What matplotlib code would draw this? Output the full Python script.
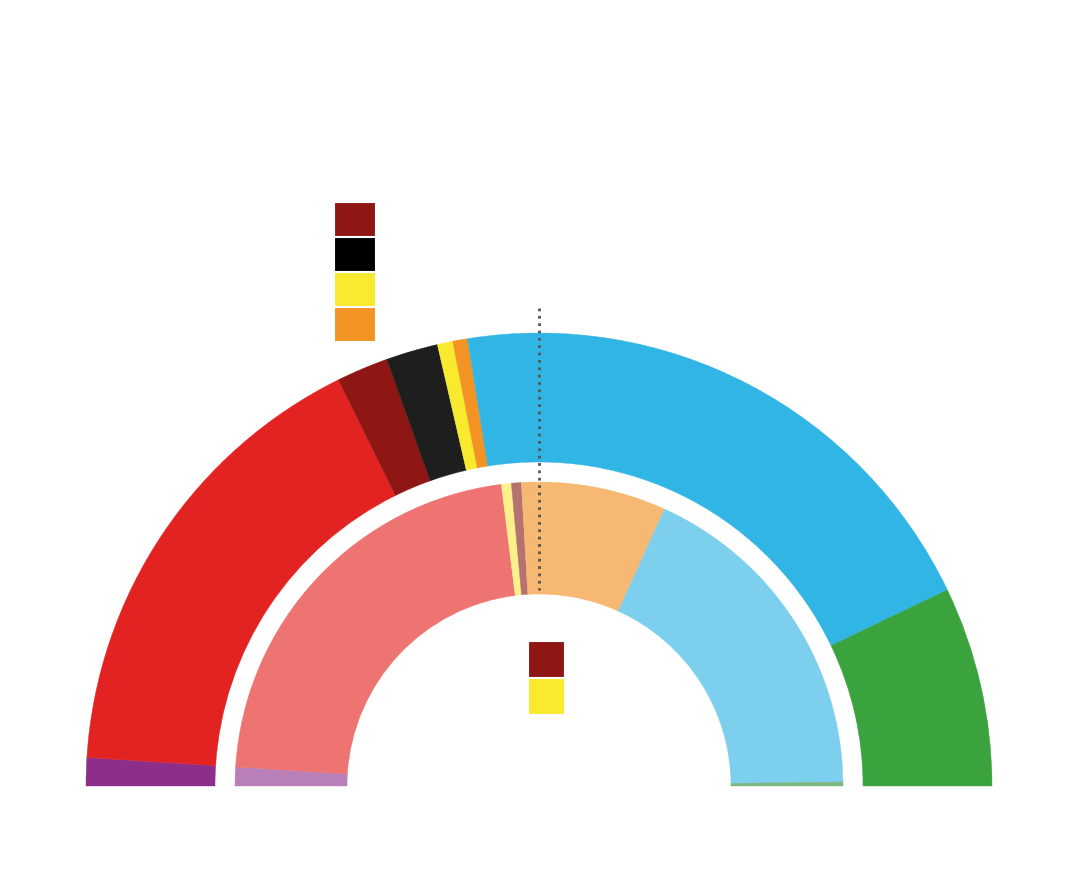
import matplotlib.pyplot as plt
from matplotlib.patches import Wedge, Rectangle

# Shares (percent of the half circle), listed from left to right
outer_shares = [2.0, 33.4, 3.7, 3.7, 1.1, 1.05, 40.8, 14.25]
outer_colors = ['#8C2E8A', '#E32322', '#8E1714', '#1E1E1E', '#F9E92F', '#F39323', '#30B5E5', '#3AA33D']

inner_shares = [2.0, 44.05, 1.05, 1.05, 15.4, 36.03, 0.42]
inner_colors = ['#B97FB8', '#EE7471', '#FBF08A', '#B5726E', '#F6B872', '#7DCFEE', '#7CB77E']

legend_top = ['#8E1714', '#000000', '#F9E92F', '#F39323']
legend_bottom = ['#8E1714', '#F9E92F']

fig = plt.figure(figsize=(10.8, 8.9), dpi=100)
ax = fig.add_axes([0, 0, 1, 1])
ax.set_xlim(0, 1080)
ax.set_ylim(0, 890)
ax.set_aspect('equal')
ax.axis('off')

cx, cy = 539, 890 - 786


def draw_ring(shares, colors, r_out, r_in):
    total = sum(shares)
    start = 180.0
    for s, c in zip(shares, colors):
        span = 180.0 * s / total
        ax.add_patch(Wedge((cx, cy), r_out, start - span, start,
                           width=r_out - r_in, facecolor=c, edgecolor=c, lw=0.3))
        start -= span


draw_ring(outer_shares, outer_colors, 453, 324)
draw_ring(inner_shares, inner_colors, 304, 192)

# majority line
ax.plot([cx, cx], [890 - 308, 890 - 590], ls=':', color='#555555', lw=2)

# legend swatches
for i, c in enumerate(legend_top):
    ax.add_patch(Rectangle((334, 890 - 236 - i * 35), 41, 34, facecolor=c, edgecolor='white', lw=0.8))
for i, c in enumerate(legend_bottom):
    ax.add_patch(Rectangle((528, 890 - 677 - i * 37), 36, 36, facecolor=c, edgecolor='white', lw=0.8))

fig.savefig('out.png', dpi=100)
